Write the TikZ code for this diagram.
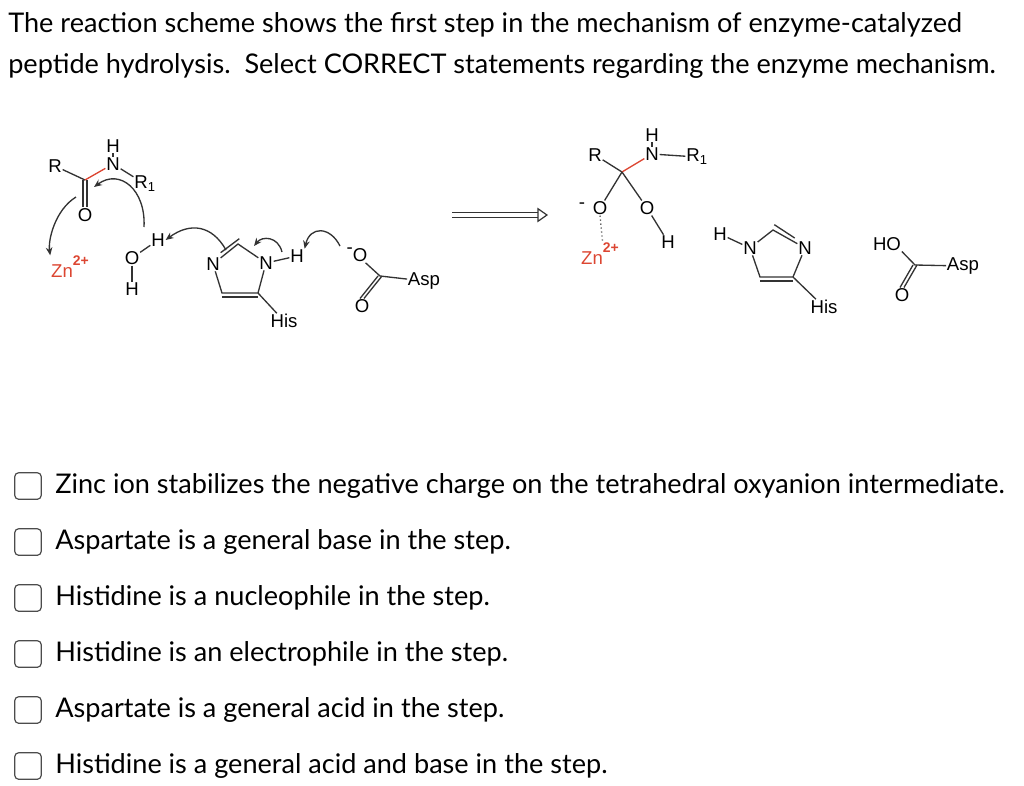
\documentclass[tikz,border=0pt]{standalone}
\usepackage{fontspec}
\setmainfont{Lato}
\newfontfamily\chem{Liberation Sans}
\usetikzlibrary{arrows.meta}
\definecolor{znred}{RGB}{220,70,50}
\newcommand{\zntwo}{Zn\rlap{\raisebox{1.2ex}{\fontsize{10.5pt}{11pt}\selectfont\bfseries 2+}}}
\begin{document}
\begin{tikzpicture}[x=0.02646cm,y=-0.02646cm,
  txt/.style={anchor=west,inner sep=0pt,font=\fontsize{20.4pt}{24pt}\selectfont},
  atm/.style={inner sep=0.5pt,font=\chem\fontsize{14pt}{15pt}\selectfont},
  bond/.style={line width=1pt,black!80},
  mech/.style={line width=1pt,black!80,-{Stealth[length=6pt,width=5pt]}},
  box/.style={draw=black!70,line width=0.9pt,rounded corners=3pt,minimum width=20pt,minimum height=20pt,inner sep=0pt}]
\useasboundingbox (0,0) rectangle (1024,785);
% question
\node[txt] (q1) at (8,25) {The reaction scheme shows the first step in the mechanism of enzyme-catalyzed};
\node[txt] (q2) at (8,66) {peptide hydrolysis.\ \ Select CORRECT statements regarding the enzyme mechanism.};
% ---------- left structure ----------
\node[atm] (R) at (55,166) {R};
\node[atm] (H1) at (113,146) {H};
\node[atm] (N1) at (113,164) {N};
\node[atm] (R1) at (145,184) {R\textsubscript{1}};
\coordinate (C1) at (85,180);
\node[atm] (O1) at (85,215) {O};
\node[atm,text=znred] (Zn1) at (62,267) {\zntwo};
\node[atm] (Ow) at (132,258) {O};
\node[atm] (Hw1) at (158,240) {H};
\node[atm] (Hw2) at (132,289) {H};
\draw[bond] (R) -- (C1);
\draw[bond,znred] (C1) -- (N1);
\draw[bond] (H1) -- (N1);
\draw[bond] (N1) -- (R1);
\draw[bond] ([xshift=-1.5]C1) -- ([xshift=-1.5]O1.north);
\draw[bond] ([xshift=1.5]C1) -- ([xshift=1.5]O1.north);
\draw[bond] (Ow) -- (Hw1);
\draw[bond] (Ow) -- (Hw2);
% imidazole left
\node[atm] (Na) at (213,264) {N};
\coordinate (Ca) at (238,244);
\node[atm] (Nb) at (266,263) {N};
\node[atm] (Hb) at (297,256) {H};
\coordinate (Cb) at (258,293);
\coordinate (Cc) at (222,293);
\node[atm] (His1) at (284,321) {His};
\draw[bond] (Na) -- (Ca) -- (Nb) -- (Cb) -- (Cc) -- (Na);
\draw[bond] ([yshift=3]Na.north east) -- ([xshift=1,yshift=4]Ca);
\draw[bond] ([yshift=-3]Cb) -- ([yshift=-3]Cc);
\draw[bond] (Cb) -- (His1);
\draw[bond] (Nb) -- (Hb);
% Asp left
\node[atm] (Oa) at (357,255) {\raisebox{0.8ex}{-}O};
\coordinate (Cd) at (380,276);
\node[atm] (Ob) at (362,306) {O};
\node[atm] (Asp1) at (424,281) {Asp};
\draw[bond] (Oa) -- (Cd) -- (Asp1);
\draw[bond] ([xshift=-1.5]Cd) -- ([xshift=-1.5]Ob.north);
\draw[bond] ([xshift=1.5]Cd) -- ([xshift=1.5]Ob.north);
% mechanism arrows
\coordinate (a1s) at (76,197);
\draw[mech] (a1s) .. controls (55,210) and (48,240) .. (Zn1.north west);
\coordinate (a2s) at (144,227);
\coordinate (a2e) at (94,187);
\draw[mech] (a2s) .. controls (146,190) and (120,168) .. (a2e);
\coordinate (a3s) at (226,250);
\draw[mech] (a3s) .. controls (212,225) and (190,222) .. (Hw1.east);
\coordinate (a4s) at (282,252);
\coordinate (a4e) at (254,246);
\draw[mech] (a4s) .. controls (278,236) and (262,236) .. (a4e);
\coordinate (a5s) at (340,246);
\draw[mech] (a5s) .. controls (330,226) and (310,226) .. (Hb.north east);
% reaction arrow
\coordinate (ra) at (452,215);
\coordinate (rb) at (548,215);
\draw[line width=0.9pt,double distance=3pt,black!80,-{Triangle[open,length=8pt,width=11pt]}] (ra) -- (rb);
% ---------- right structure ----------
\node[atm] (R2) at (595,155) {R};
\node[atm] (H2) at (652,135) {H};
\node[atm] (N2) at (652,154) {N};
\node[atm] (R12) at (697,157) {R\textsubscript{1}};
\coordinate (C2) at (622,172);
\node[atm] (Om) at (600,208) {O};
\node[atm] (minus) at (582,206) {-};
\node[atm] (Oh) at (647,208) {O};
\node[atm] (Hh) at (668,242) {H};
\node[atm,text=znred] (Zn2) at (592,254) {\zntwo};
\draw[bond] (R2) -- (C2);
\draw[bond,znred] (C2) -- (N2);
\draw[bond] (H2) -- (N2);
\draw[bond] (N2) -- (R12);
\draw[bond] (C2) -- (Om);
\draw[bond] (C2) -- (Oh);
\draw[bond] (Oh) -- (Hh);
\draw[line width=1pt,black!60,dotted] (Om.south) -- ([xshift=8]Zn2.north);
% imidazole right
\node[atm] (Hr) at (720,234) {H};
\node[atm] (Nc) at (750,248) {N};
\coordinate (Ce) at (773,230);
\node[atm] (Nd) at (805,248) {N};
\coordinate (Cf) at (793,277);
\coordinate (Cg) at (760,277);
\node[atm] (His2) at (824,307) {His};
\draw[bond] (Hr) -- (Nc);
\draw[bond] (Nc) -- (Ce) -- (Nd) -- (Cf) -- (Cg) -- (Nc);
\draw[bond] ([xshift=1,yshift=4]Ce) -- ([xshift=-2,yshift=2]Nd.north west);
\draw[bond] ([yshift=-3]Cf) -- ([yshift=-3]Cg);
\draw[bond] (Cf) -- (His2);
% Asp right
\node[atm] (HO) at (887,244) {HO};
\coordinate (Ch) at (915,265);
\node[atm] (Oc) at (902,295) {O};
\node[atm] (Asp2) at (963,266) {Asp};
\draw[bond] (HO.south east) -- (Ch) -- (Asp2);
\draw[bond] ([xshift=-1.5]Ch) -- ([xshift=-1.5]Oc.north);
\draw[bond] ([xshift=1.5]Ch) -- ([xshift=1.5]Oc.north);
% ---------- options ----------
\foreach \y/\t [count=\i] in {486/{Zinc ion stabilizes the negative charge on the tetrahedral oxyanion intermediate.},
  542/{Aspartate is a general base in the step.},
  598/{Histidine is a nucleophile in the step.},
  654/{Histidine is an electrophile in the step.},
  710/{Aspartate is a general acid in the step.},
  766/{Histidine is a general acid and base in the step.}}{
  \node[box] (b\i) at (28,\y) {};
  \node[txt] (t\i) at (55,\y) {\t};
}
\end{tikzpicture}
\end{document}
